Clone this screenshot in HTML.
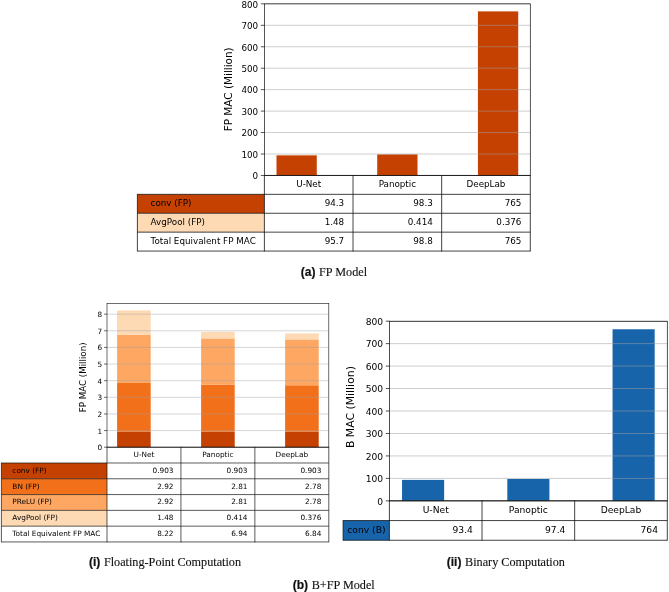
<!DOCTYPE html>
<html><head><meta charset="utf-8"><title>Figure</title>
<style>
html,body{margin:0;padding:0;background:#fff;}
body{width:669px;height:592px;overflow:hidden;position:relative;}
svg{position:absolute;left:0;top:0;display:block;}
svg text{font-family:"DejaVu Sans","Liberation Sans",sans-serif;fill:#000;}
.cap{font-family:"Liberation Serif",serif;fill:#111;}
svg text.cap{font-family:"Liberation Serif",serif;stroke:#111;stroke-width:0.12px;}
svg text .capb{font-family:"Liberation Sans",sans-serif;font-weight:bold;stroke-width:0.2px;}
</style></head><body>
<svg width="669" height="592" viewBox="0 0 669 592">
<rect x="276.49" y="155.22" width="40.29" height="20.23" fill="#c54102"/>
<rect x="276.49" y="154.91" width="40.29" height="0.32" fill="#fdd9b4"/>
<rect x="377.21" y="154.36" width="40.29" height="21.09" fill="#c54102"/>
<rect x="377.21" y="154.28" width="40.29" height="0.09" fill="#fdd9b4"/>
<rect x="477.93" y="11.36" width="40.29" height="164.09" fill="#c54102"/>
<rect x="477.93" y="11.28" width="40.29" height="0.08" fill="#fdd9b4"/>
<line x1="264.40" y1="154.00" x2="530.30" y2="154.00" stroke="#a0a0a0" stroke-opacity="0.7" stroke-width="0.72"/>
<line x1="264.40" y1="132.55" x2="530.30" y2="132.55" stroke="#a0a0a0" stroke-opacity="0.7" stroke-width="0.72"/>
<line x1="264.40" y1="111.10" x2="530.30" y2="111.10" stroke="#a0a0a0" stroke-opacity="0.7" stroke-width="0.72"/>
<line x1="264.40" y1="89.65" x2="530.30" y2="89.65" stroke="#a0a0a0" stroke-opacity="0.7" stroke-width="0.72"/>
<line x1="264.40" y1="68.20" x2="530.30" y2="68.20" stroke="#a0a0a0" stroke-opacity="0.7" stroke-width="0.72"/>
<line x1="264.40" y1="46.75" x2="530.30" y2="46.75" stroke="#a0a0a0" stroke-opacity="0.7" stroke-width="0.72"/>
<line x1="264.40" y1="25.30" x2="530.30" y2="25.30" stroke="#a0a0a0" stroke-opacity="0.7" stroke-width="0.72"/>
<line x1="264.40" y1="3.85" x2="530.30" y2="3.85" stroke="#a0a0a0" stroke-opacity="0.7" stroke-width="0.72"/>
<rect x="264.40" y="3.85" width="265.90" height="171.60" fill="none" stroke="#141414" stroke-width="0.72"/>
<line x1="260.80" y1="175.45" x2="264.40" y2="175.45" stroke="#141414" stroke-width="0.72"/>
<text x="258.20" y="179" font-size="8.75" text-anchor="end">0</text>
<line x1="260.80" y1="154.00" x2="264.40" y2="154.00" stroke="#141414" stroke-width="0.72"/>
<text x="258.20" y="158" font-size="8.75" text-anchor="end">100</text>
<line x1="260.80" y1="132.55" x2="264.40" y2="132.55" stroke="#141414" stroke-width="0.72"/>
<text x="258.20" y="136" font-size="8.75" text-anchor="end">200</text>
<line x1="260.80" y1="111.10" x2="264.40" y2="111.10" stroke="#141414" stroke-width="0.72"/>
<text x="258.20" y="115" font-size="8.75" text-anchor="end">300</text>
<line x1="260.80" y1="89.65" x2="264.40" y2="89.65" stroke="#141414" stroke-width="0.72"/>
<text x="258.20" y="93" font-size="8.75" text-anchor="end">400</text>
<line x1="260.80" y1="68.20" x2="264.40" y2="68.20" stroke="#141414" stroke-width="0.72"/>
<text x="258.20" y="72" font-size="8.75" text-anchor="end">500</text>
<line x1="260.80" y1="46.75" x2="264.40" y2="46.75" stroke="#141414" stroke-width="0.72"/>
<text x="258.20" y="51" font-size="8.75" text-anchor="end">600</text>
<line x1="260.80" y1="25.30" x2="264.40" y2="25.30" stroke="#141414" stroke-width="0.72"/>
<text x="258.20" y="29" font-size="8.75" text-anchor="end">700</text>
<line x1="260.80" y1="3.85" x2="264.40" y2="3.85" stroke="#141414" stroke-width="0.72"/>
<text x="258.20" y="8" font-size="8.75" text-anchor="end">800</text>
<text transform="translate(232.00,89.30) rotate(-90)" font-size="10.45" text-anchor="middle">FP MAC (Million)</text>
<rect x="137.40" y="194.35" width="127.00" height="18.90" fill="#c54102"/>
<rect x="137.40" y="213.25" width="127.00" height="18.90" fill="#fdd9b4"/>
<path d="M264.40 175.45H530.30M137.40 194.35H530.30M137.40 213.25H530.30M137.40 232.15H530.30M137.40 251.05H530.30M137.40 193.95V251.45M264.40 175.05V251.45M353.03 175.05V251.45M441.67 175.05V251.45M530.30 175.05V251.45" fill="none" stroke="#141414" stroke-width="0.8"/>
<text x="308.72" y="187" font-size="8.78" text-anchor="middle">U-Net</text>
<text x="397.35" y="187" font-size="8.78" text-anchor="middle">Panoptic</text>
<text x="485.98" y="187" font-size="8.78" text-anchor="middle">DeepLab</text>
<text x="150.60" y="206" font-size="8.78">conv (FP)</text>
<text x="344.17" y="206" font-size="8.78" text-anchor="end">94.3</text>
<text x="432.80" y="206" font-size="8.78" text-anchor="end">98.3</text>
<text x="521.44" y="206" font-size="8.78" text-anchor="end">765</text>
<text x="150.60" y="225" font-size="8.78">AvgPool (FP)</text>
<text x="344.17" y="225" font-size="8.78" text-anchor="end">1.48</text>
<text x="432.80" y="225" font-size="8.78" text-anchor="end">0.414</text>
<text x="521.44" y="225" font-size="8.78" text-anchor="end">0.376</text>
<text x="150.60" y="244" font-size="8.78">Total Equivalent FP MAC</text>
<text x="344.17" y="244" font-size="8.78" text-anchor="end">95.7</text>
<text x="432.80" y="244" font-size="8.78" text-anchor="end">98.8</text>
<text x="521.44" y="244" font-size="8.78" text-anchor="end">765</text>
<rect x="117.08" y="431.58" width="33.61" height="15.62" fill="#c54102"/>
<rect x="117.08" y="382.92" width="33.61" height="48.66" fill="#f3701b"/>
<rect x="117.08" y="334.76" width="33.61" height="48.16" fill="#fda762"/>
<rect x="117.08" y="310.45" width="33.61" height="24.31" fill="#fdd9b4"/>
<rect x="201.10" y="431.58" width="33.61" height="15.62" fill="#c54102"/>
<rect x="201.10" y="384.75" width="33.61" height="46.83" fill="#f3701b"/>
<rect x="201.10" y="338.42" width="33.61" height="46.33" fill="#fda762"/>
<rect x="201.10" y="331.84" width="33.61" height="6.58" fill="#fdd9b4"/>
<rect x="285.11" y="431.58" width="33.61" height="15.62" fill="#c54102"/>
<rect x="285.11" y="385.25" width="33.61" height="46.33" fill="#f3701b"/>
<rect x="285.11" y="339.42" width="33.61" height="45.83" fill="#fda762"/>
<rect x="285.11" y="333.47" width="33.61" height="5.95" fill="#fdd9b4"/>
<line x1="107.00" y1="430.57" x2="328.80" y2="430.57" stroke="#a0a0a0" stroke-opacity="0.7" stroke-width="0.62"/>
<line x1="107.00" y1="413.94" x2="328.80" y2="413.94" stroke="#a0a0a0" stroke-opacity="0.7" stroke-width="0.62"/>
<line x1="107.00" y1="397.31" x2="328.80" y2="397.31" stroke="#a0a0a0" stroke-opacity="0.7" stroke-width="0.62"/>
<line x1="107.00" y1="380.68" x2="328.80" y2="380.68" stroke="#a0a0a0" stroke-opacity="0.7" stroke-width="0.62"/>
<line x1="107.00" y1="364.05" x2="328.80" y2="364.05" stroke="#a0a0a0" stroke-opacity="0.7" stroke-width="0.62"/>
<line x1="107.00" y1="347.42" x2="328.80" y2="347.42" stroke="#a0a0a0" stroke-opacity="0.7" stroke-width="0.62"/>
<line x1="107.00" y1="330.79" x2="328.80" y2="330.79" stroke="#a0a0a0" stroke-opacity="0.7" stroke-width="0.62"/>
<line x1="107.00" y1="314.16" x2="328.80" y2="314.16" stroke="#a0a0a0" stroke-opacity="0.7" stroke-width="0.62"/>
<rect x="107.00" y="303.40" width="221.80" height="143.80" fill="none" stroke="#141414" stroke-width="0.62"/>
<line x1="104.00" y1="447.20" x2="107.00" y2="447.20" stroke="#141414" stroke-width="0.62"/>
<text x="102.20" y="450" font-size="7.3" text-anchor="end">0</text>
<line x1="104.00" y1="430.57" x2="107.00" y2="430.57" stroke="#141414" stroke-width="0.62"/>
<text x="102.20" y="434" font-size="7.3" text-anchor="end">1</text>
<line x1="104.00" y1="413.94" x2="107.00" y2="413.94" stroke="#141414" stroke-width="0.62"/>
<text x="102.20" y="417" font-size="7.3" text-anchor="end">2</text>
<line x1="104.00" y1="397.31" x2="107.00" y2="397.31" stroke="#141414" stroke-width="0.62"/>
<text x="102.20" y="400" font-size="7.3" text-anchor="end">3</text>
<line x1="104.00" y1="380.68" x2="107.00" y2="380.68" stroke="#141414" stroke-width="0.62"/>
<text x="102.20" y="384" font-size="7.3" text-anchor="end">4</text>
<line x1="104.00" y1="364.05" x2="107.00" y2="364.05" stroke="#141414" stroke-width="0.62"/>
<text x="102.20" y="367" font-size="7.3" text-anchor="end">5</text>
<line x1="104.00" y1="347.42" x2="107.00" y2="347.42" stroke="#141414" stroke-width="0.62"/>
<text x="102.20" y="350" font-size="7.3" text-anchor="end">6</text>
<line x1="104.00" y1="330.79" x2="107.00" y2="330.79" stroke="#141414" stroke-width="0.62"/>
<text x="102.20" y="334" font-size="7.3" text-anchor="end">7</text>
<line x1="104.00" y1="314.16" x2="107.00" y2="314.16" stroke="#141414" stroke-width="0.62"/>
<text x="102.20" y="317" font-size="7.3" text-anchor="end">8</text>
<text transform="translate(86.10,377.40) rotate(-90)" font-size="8.7" text-anchor="middle">FP MAC (Million)</text>
<rect x="1.40" y="462.99" width="105.60" height="15.79" fill="#c54102"/>
<rect x="1.40" y="478.78" width="105.60" height="15.79" fill="#f3701b"/>
<rect x="1.40" y="494.57" width="105.60" height="15.79" fill="#fda762"/>
<rect x="1.40" y="510.36" width="105.60" height="15.79" fill="#fdd9b4"/>
<path d="M107.00 447.20H328.80M1.40 462.99H328.80M1.40 478.78H328.80M1.40 494.57H328.80M1.40 510.36H328.80M1.40 526.15H328.80M1.40 541.94H328.80M1.40 462.64V542.29M107.00 446.85V542.29M180.93 446.85V542.29M254.87 446.85V542.29M328.80 446.85V542.29" fill="none" stroke="#141414" stroke-width="0.7"/>
<text x="143.97" y="457" font-size="7.33" text-anchor="middle">U-Net</text>
<text x="217.90" y="457" font-size="7.33" text-anchor="middle">Panoptic</text>
<text x="291.83" y="457" font-size="7.33" text-anchor="middle">DeepLab</text>
<text x="12.36" y="473" font-size="7.33">conv (FP)</text>
<text x="173.54" y="473" font-size="7.33" text-anchor="end">0.903</text>
<text x="247.47" y="473" font-size="7.33" text-anchor="end">0.903</text>
<text x="321.41" y="473" font-size="7.33" text-anchor="end">0.903</text>
<text x="12.36" y="489" font-size="7.33">BN (FP)</text>
<text x="173.54" y="489" font-size="7.33" text-anchor="end">2.92</text>
<text x="247.47" y="489" font-size="7.33" text-anchor="end">2.81</text>
<text x="321.41" y="489" font-size="7.33" text-anchor="end">2.78</text>
<text x="12.36" y="504" font-size="7.33">PReLU (FP)</text>
<text x="173.54" y="504" font-size="7.33" text-anchor="end">2.92</text>
<text x="247.47" y="504" font-size="7.33" text-anchor="end">2.81</text>
<text x="321.41" y="504" font-size="7.33" text-anchor="end">2.78</text>
<text x="12.36" y="520" font-size="7.33">AvgPool (FP)</text>
<text x="173.54" y="520" font-size="7.33" text-anchor="end">1.48</text>
<text x="247.47" y="520" font-size="7.33" text-anchor="end">0.414</text>
<text x="321.41" y="520" font-size="7.33" text-anchor="end">0.376</text>
<text x="12.36" y="536" font-size="7.33">Total Equivalent FP MAC</text>
<text x="173.54" y="536" font-size="7.33" text-anchor="end">8.22</text>
<text x="247.47" y="536" font-size="7.33" text-anchor="end">6.94</text>
<text x="321.41" y="536" font-size="7.33" text-anchor="end">6.84</text>
<rect x="402.03" y="479.87" width="42.11" height="20.98" fill="#1764ab"/>
<rect x="507.30" y="478.97" width="42.11" height="21.88" fill="#1764ab"/>
<rect x="612.56" y="329.26" width="42.11" height="171.59" fill="#1764ab"/>
<line x1="389.40" y1="478.39" x2="667.30" y2="478.39" stroke="#a0a0a0" stroke-opacity="0.7" stroke-width="0.75"/>
<line x1="389.40" y1="455.93" x2="667.30" y2="455.93" stroke="#a0a0a0" stroke-opacity="0.7" stroke-width="0.75"/>
<line x1="389.40" y1="433.47" x2="667.30" y2="433.47" stroke="#a0a0a0" stroke-opacity="0.7" stroke-width="0.75"/>
<line x1="389.40" y1="411.01" x2="667.30" y2="411.01" stroke="#a0a0a0" stroke-opacity="0.7" stroke-width="0.75"/>
<line x1="389.40" y1="388.55" x2="667.30" y2="388.55" stroke="#a0a0a0" stroke-opacity="0.7" stroke-width="0.75"/>
<line x1="389.40" y1="366.09" x2="667.30" y2="366.09" stroke="#a0a0a0" stroke-opacity="0.7" stroke-width="0.75"/>
<line x1="389.40" y1="343.63" x2="667.30" y2="343.63" stroke="#a0a0a0" stroke-opacity="0.7" stroke-width="0.75"/>
<line x1="389.40" y1="321.17" x2="667.30" y2="321.17" stroke="#a0a0a0" stroke-opacity="0.7" stroke-width="0.75"/>
<rect x="389.40" y="321.30" width="277.90" height="179.55" fill="none" stroke="#141414" stroke-width="0.75"/>
<line x1="385.80" y1="500.85" x2="389.40" y2="500.85" stroke="#141414" stroke-width="0.75"/>
<text x="383.10" y="505" font-size="9.13" text-anchor="end">0</text>
<line x1="385.80" y1="478.39" x2="389.40" y2="478.39" stroke="#141414" stroke-width="0.75"/>
<text x="383.10" y="482" font-size="9.13" text-anchor="end">100</text>
<line x1="385.80" y1="455.93" x2="389.40" y2="455.93" stroke="#141414" stroke-width="0.75"/>
<text x="383.10" y="460" font-size="9.13" text-anchor="end">200</text>
<line x1="385.80" y1="433.47" x2="389.40" y2="433.47" stroke="#141414" stroke-width="0.75"/>
<text x="383.10" y="437" font-size="9.13" text-anchor="end">300</text>
<line x1="385.80" y1="411.01" x2="389.40" y2="411.01" stroke="#141414" stroke-width="0.75"/>
<text x="383.10" y="415" font-size="9.13" text-anchor="end">400</text>
<line x1="385.80" y1="388.55" x2="389.40" y2="388.55" stroke="#141414" stroke-width="0.75"/>
<text x="383.10" y="392" font-size="9.13" text-anchor="end">500</text>
<line x1="385.80" y1="366.09" x2="389.40" y2="366.09" stroke="#141414" stroke-width="0.75"/>
<text x="383.10" y="370" font-size="9.13" text-anchor="end">600</text>
<line x1="385.80" y1="343.63" x2="389.40" y2="343.63" stroke="#141414" stroke-width="0.75"/>
<text x="383.10" y="347" font-size="9.13" text-anchor="end">700</text>
<line x1="385.80" y1="321.17" x2="389.40" y2="321.17" stroke="#141414" stroke-width="0.75"/>
<text x="383.10" y="325" font-size="9.13" text-anchor="end">800</text>
<text transform="translate(353.90,407.10) rotate(-90)" font-size="10.87" text-anchor="middle">B MAC (Million)</text>
<rect x="343.10" y="520.55" width="46.30" height="19.70" fill="#1764ab"/>
<path d="M389.40 500.85H667.30M343.10 520.55H667.30M343.10 540.25H667.30M343.10 520.15V540.65M389.40 500.45V540.65M482.03 500.45V540.65M574.67 500.45V540.65M667.30 500.45V540.65" fill="none" stroke="#141414" stroke-width="0.8"/>
<text x="435.72" y="513" font-size="9.17" text-anchor="middle">U-Net</text>
<text x="528.35" y="513" font-size="9.17" text-anchor="middle">Panoptic</text>
<text x="620.98" y="513" font-size="9.17" text-anchor="middle">DeepLab</text>
<text x="347.33" y="533" font-size="9.17">conv (B)</text>
<text x="472.77" y="533" font-size="9.17" text-anchor="end">93.4</text>
<text x="565.40" y="533" font-size="9.17" text-anchor="end">97.4</text>
<text x="658.04" y="533" font-size="9.17" text-anchor="end">764</text>
<text class="cap" x="300.70" y="276.00" font-size="12.2"><tspan class="capb" font-size="12.05">(a)</tspan><tspan dx="0.6"> FP Model</tspan></text>
<text class="cap" x="88.90" y="565.80" font-size="12.2"><tspan class="capb" font-size="12.05">(i)</tspan><tspan dx="0.6"> Floating-Point Computation</tspan></text>
<text class="cap" x="446.70" y="565.70" font-size="12.2"><tspan class="capb" font-size="12.05">(ii)</tspan><tspan dx="0.6"> Binary Computation</tspan></text>
<text class="cap" x="292.70" y="589.00" font-size="12.2"><tspan class="capb" font-size="12.05">(b)</tspan><tspan dx="0.6"> B+FP Model</tspan></text>
</svg>
</body></html>
